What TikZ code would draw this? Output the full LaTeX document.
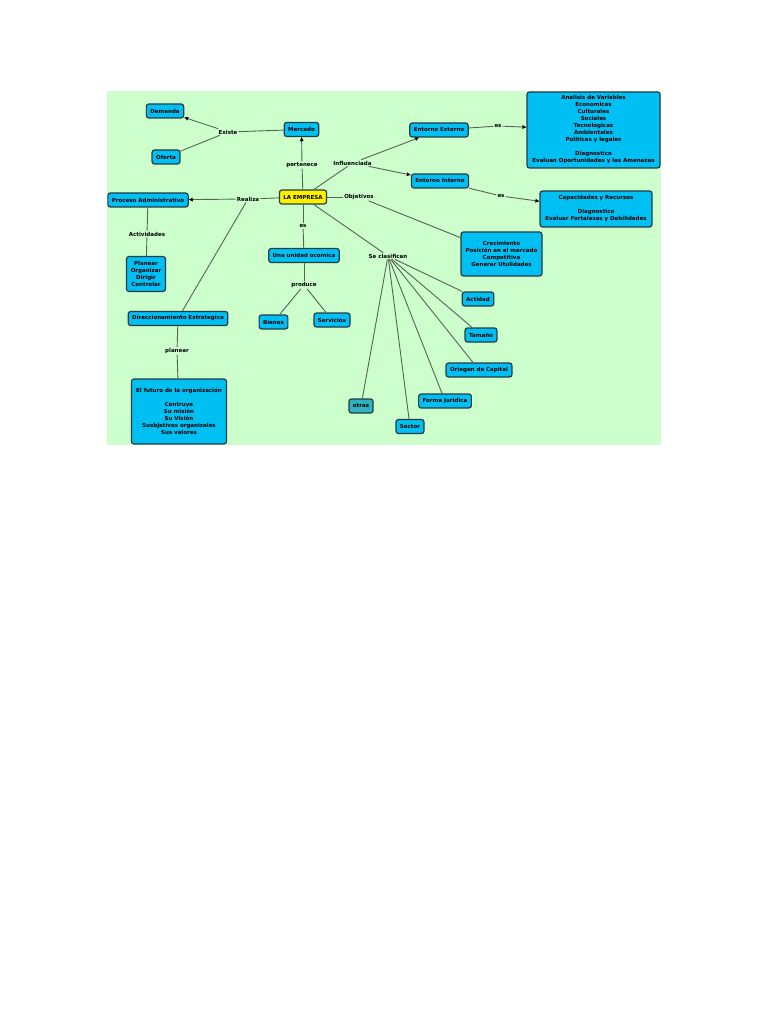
\documentclass[tikz,border=0pt]{standalone}
\usepackage{fontspec}
\setmainfont{DejaVu Sans}
\usetikzlibrary{arrows.meta,positioning}
\definecolor{mapgreen}{RGB}{204,255,204}
\definecolor{boxblue}{RGB}{0,191,243}
\definecolor{boxline}{RGB}{40,58,68}
\definecolor{linkgray}{RGB}{85,100,85}
\definecolor{otrasteal}{RGB}{48,178,192}

\begin{document}
\begin{tikzpicture}[x=1pt,y=-1pt,
  font=\fontsize{5.5}{7}\selectfont\bfseries,
  box/.style={draw=boxline, line width=1.2pt, fill=boxblue, rounded corners=2.5pt,
    inner xsep=4pt, inner ysep=3pt, minimum height=14pt, align=center},
  lbl/.style={fill=mapgreen, inner sep=1pt},
  link/.style={draw=linkgray, line width=0.9pt},
  arr/.style={link, -{Triangle[length=4pt,width=3.5pt,color=black]}}]

  \fill[white] (0,0) rectangle (768,1024);
  \fill[mapgreen] (107,91) rectangle (661,445);

  \node[box, fill=yellow] (empresa) at (303,197) {LA EMPRESA};

  \node[box] (mercado) at (301.5,129.5) {Mercado};
  \node[box] (demanda) at (165,111) {Demanda};
  \node[box] (oferta) at (166,157) {Oferta};
  \node[lbl] (existe) at (228,132) {Existe};
  \node[lbl] (pertenece) at (302,165) {pertenece};

  \node[lbl] (influ) at (352.5,163) {Influenciada};
  \node[box] (externo) at (439,130) {Entorno Externo};
  \node[box] (interno) at (440,181) {Entorno Interno};
  \node[lbl] (esext) at (498,126) {es};
  \node[lbl] (esint) at (501,196) {es};
  \node[box, minimum width=133pt, minimum height=76pt] (analisis) at (593.5,130)
    {Analisis de Variables\\Economicas\\Culturales\\Sociales\\Tecnologicas\\Ambientales\\Politicas y legales\\[7pt]Diagnostico\\Evaluan Oportunidades y las Amenazas};
  \node[box, minimum width=112pt, minimum height=36pt] (capac) at (596,209)
    {Capacidades y Recursos\\[7pt]Diagnostico\\Evaluar Fortalezas y Debilidades};

  \node[lbl] (objet) at (359,197) {Objetivos};
  \node[box, minimum width=81pt, minimum height=44pt] (crec) at (501.5,254)
    {Crecimiento\\Posición en el mercado\\Competitiva\\Generar Utulidades};

  \node[lbl] (realiza) at (248,199) {Realiza};
  \node[box] (proceso) at (148,200) {Proceso Administrativo};
  \node[lbl] (activ) at (147,234) {Actividades};
  \node[box, minimum width=39pt, minimum height=35pt] (planear) at (146,274)
    {Planear\\Organizar\\Dirigir\\Controlar};
  \node[box] (direc) at (178,318.5) {Direccionamiento Estrategico};
  \node[lbl] (plan) at (177,351) {planear};
  \node[box, minimum width=95pt, minimum height=65pt] (futuro) at (179,411.5)
    {El futuro de la organización\\[7pt]Contruye\\Su misión\\Su Visión\\Susbjetivos organizales\\Sus valores};

  \node[lbl] (esuni) at (303,226) {es};
  \node[box] (unidad) at (304,255.5) {Una unidad ocomica};
  \node[lbl] (produce) at (304,285) {produce};
  \node[box] (bienes) at (273.5,322) {Bienes};
  \node[box] (servicios) at (332,320) {Servicios};

  \node[lbl] (clas) at (388,256) {Se clasifican};
  \node[box] (actidad) at (478,299) {Actidad};
  \node[box] (tamano) at (481,335) {Tamaño};
  \node[box] (oriegen) at (479,370) {Oriegen de Capital};
  \node[box] (forma) at (445,401) {Forma Juridica};
  \node[box] (sector) at (410,426.5) {Sector};
  \node[box, fill=otrasteal] (otras) at (361,406) {otras};

  % enlaces
  \draw[link] (empresa) -- (pertenece);
  \draw[arr] (pertenece) -- (mercado);
  \draw[link] (mercado) -- (existe);
  \draw[arr] (existe) -- (demanda);
  \draw[link] (existe) -- (oferta);

  \draw[link] (empresa) -- (influ);
  \draw[arr] (influ) -- (externo);
  \draw[arr] (influ) -- (interno);
  \draw[link] (externo) -- (esext);
  \draw[arr] (esext) -- (analisis);
  \draw[link] (interno) -- (esint);
  \draw[arr] (esint) -- (capac);

  \draw[link] (empresa) -- (objet);
  \draw[link] (objet) -- (crec);

  \draw[link] (empresa) -- (realiza);
  \draw[arr] (realiza) -- (proceso);
  \draw[link] (realiza) -- (direc);
  \draw[link] (proceso) -- (activ);
  \draw[link] (activ) -- (planear);
  \draw[link] (direc) -- (plan);
  \draw[link] (plan) -- (futuro);

  \draw[link] (empresa) -- (esuni);
  \draw[link] (esuni) -- (unidad);
  \draw[link] (unidad) -- (produce);
  \draw[link] (produce) -- (bienes);
  \draw[link] (produce) -- (servicios);

  \draw[link] (empresa) -- (clas);
  \foreach \n in {actidad,tamano,oriegen,forma,sector,otras}
    \draw[link] (clas) -- (\n);

\end{tikzpicture}
\end{document}
